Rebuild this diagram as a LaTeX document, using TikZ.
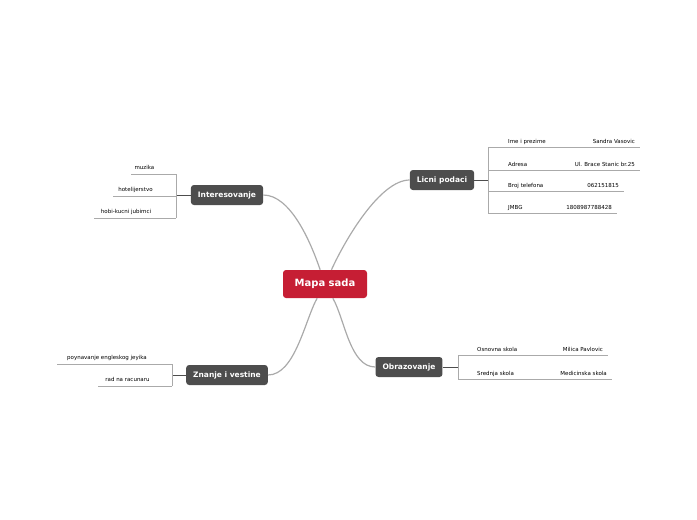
\documentclass[tikz,border=0pt]{standalone}
\usepackage{fontspec}
\setmainfont{DejaVu Sans}
\usetikzlibrary{positioning}
\definecolor{mapred}{RGB}{198,30,52}
\definecolor{topicgray}{RGB}{77,77,77}
\definecolor{linegray}{RGB}{170,170,170}

\begin{document}
\begin{tikzpicture}[x=1pt,y=-1pt]
	\tikzset{central/.style={draw=none,fill=mapred,rounded corners=3pt,minimum width=84pt,minimum height=28pt,text=white,font=\fontsize{10}{12}\selectfont\bfseries},
		topic/.style={fill=topicgray,rounded corners=3pt,minimum height=20pt,text=white,font=\fontsize{7.5}{9}\selectfont\bfseries,inner xsep=7pt},
		leaf/.style={inner sep=0pt,font=\fontsize{5.5}{7}\selectfont,text=black},
		branch/.style={linegray,line width=1.2pt},
		stem/.style={topicgray,line width=0.6pt}}
	\useasboundingbox (0,0) rectangle (697,520);
	\node[central] (root) at (325,284) {Mapa sada};
	\node[topic] (licni) at (442,180) {Licni podaci};
	\node[topic] (inter) at (227,195) {Interesovanje};
	\node[topic] (znanje) at (227,375) {Znanje i vestine};
	\node[topic] (obraz) at (409,367) {Obrazovanje};
	% branches
	\draw[branch] (root) .. controls (345,240) and (380,180) .. (licni.west);
	\draw[branch] (root) .. controls (310,240) and (290,195) .. (inter.east);
	\draw[branch] (root) .. controls (305,320) and (295,375) .. (znanje.east);
	\draw[branch] (root) .. controls (345,320) and (350,367) .. (obraz.west);
	% Licni podaci
	\coordinate (lt) at (488,147); \coordinate (lb) at (488,213);
	\draw[stem] (licni.east) -- (488,180);
	\draw[linegray,line width=0.6pt] (lt) -- (lb);
	\foreach \y/\e/\a/\b in {147/640/Ime i prezime/Sandra Vasovic,170/640/Adresa/Ul. Brace Stanic br.25,191/624/Broj telefona/062151815,213/617/JMBG/1808987788428}{
		\draw[linegray,line width=0.6pt] (488,\y) -- (\e,\y);
		\node[leaf,anchor=base west] (ka) at (508,\y-4) {\a};
		\node[leaf,anchor=base east] (kb) at (\e-5,\y-4) {\b};
	}
	% Obrazovanje
	\draw[stem] (obraz.east) -- (458,367);
	\draw[linegray,line width=0.6pt] (458,355) -- (458,379);
	\foreach \y/\e/\a/\b in {355/608/Osnovna skola/Milica Pavlovic,379/612/Srednja skola/Medicinska skola}{
		\draw[linegray,line width=0.6pt] (458,\y) -- (\e,\y);
		\node[leaf,anchor=base west] (oa) at (477,\y-4) {\a};
		\node[leaf,anchor=base east] (ob) at (\e-5,\y-4) {\b};
	}
	% Interesovanje
	\draw[stem] (inter.west) -- (176,195);
	\draw[linegray,line width=0.6pt] (176,174) -- (176,218);
	\foreach \y/\s/\a in {174/131/muzika,196/113/hotelijerstvo,218/94/hobi-kucni jubimci}{
		\draw[linegray,line width=0.6pt] (\s,\y) -- (176,\y);
		\node[leaf,anchor=base] (ia) at ({(\s+158)/2},\y-5) {\a};
	}
	% Znanje i vestine
	\draw[stem] (znanje.west) -- (172,375);
	\draw[linegray,line width=0.6pt] (172,364) -- (172,386);
	\foreach \y/\s/\a in {364/57/poynavanje engleskog jeyika,386/98/rad na racunaru}{
		\draw[linegray,line width=0.6pt] (\s,\y) -- (172,\y);
		\node[leaf,anchor=base] (za) at ({(\s+157)/2},\y-5) {\a};
	}
\end{tikzpicture}
\end{document}
